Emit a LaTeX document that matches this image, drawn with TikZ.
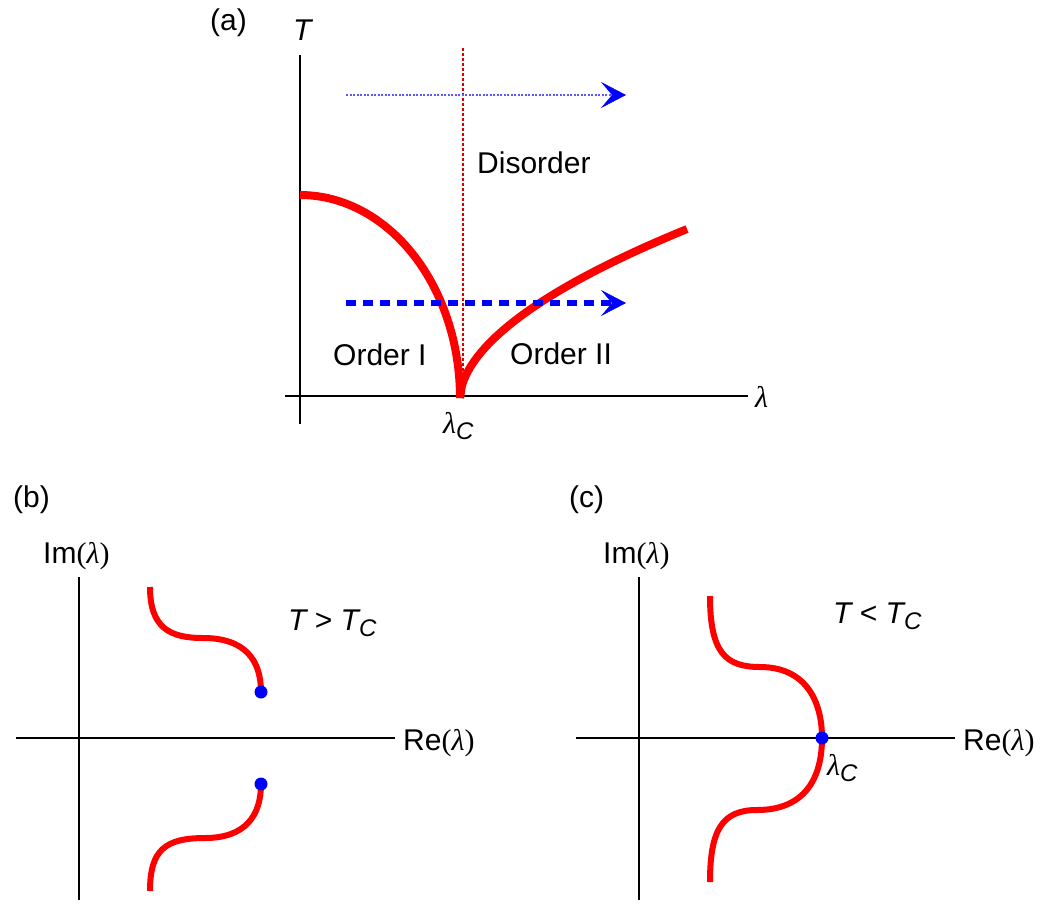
\documentclass[tikz,border=0pt]{standalone}
\usepackage{fontspec}
\setmainfont{Liberation Sans}
\newfontfamily\serif{Liberation Serif}
\usetikzlibrary{arrows.meta}
\newcommand\mylam{{\serif\itshape λ}}
\newcommand\mysub[1]{\raisebox{-6pt}{\fontsize{24}{26}\selectfont\itshape #1}}
\newcommand\mypar[1]{{\serif #1}}
\begin{document}
\begin{tikzpicture}[x=1pt,y=-1pt,
  lbl/.style={inner sep=0pt, anchor=base west, font=\fontsize{30}{36}\selectfont},
  axis/.style={line width=2.3pt, black},
  phase/.style={line width=8pt, red, line cap=butt},
  root/.style={line width=6pt, red},
  dotn/.style={circle, fill=blue, inner sep=0pt, minimum size=13pt},
  tip/.style={-{Stealth[length=25pt, width=26pt, inset=11pt, line width=0.5pt, color=blue]}},
  redline/.style={line width=2.5pt, red!85!black, dash pattern=on 2.5pt off 2.5pt},
  hiarrow/.style={tip, line width=2.5pt, blue!65!white, dash pattern=on 2pt off 1.5pt},
  loarrow/.style={tip, line width=5.5pt, blue, dash pattern=on 10pt off 7pt}]
\useasboundingbox (0,0) rectangle (1049,911);
% ---------- (a) ----------
\draw[axis] (300,55) -- (300,424);
\draw[axis] (285,396) -- (748,396);
\draw[redline] (463,48) -- (463,396);
\coordinate (u1) at (346,95);
\coordinate (u2) at (626,95);
\coordinate (d1) at (346,303);
\coordinate (d2) at (626,303);
\draw[phase] plot[domain=0:90, samples=80] ({300+160*sin(\x)}, {398-203*cos(\x)});
\draw[phase] plot[domain=0:227, samples=120] ({460+\x}, {398-8.55*pow(\x,0.55)});
\draw[hiarrow] (u1) -- (u2);
\draw[loarrow] (d1) -- (d2);
\node[lbl] (la) at (210,30) {(a)};
\node[lbl] (lT) at (293,40) {\itshape T};
\node[lbl] (dis) at (477,173) {Disorder};
\node[lbl] (o1) at (333,365) {Order I};
\node[lbl] (o2) at (510,364) {Order II};
\node[lbl] (lamx) at (755,407) {\mylam};
\node[lbl] (lamc) at (443,433) {\mylam\mysub{C}};
% ---------- (b) ----------
\draw[axis] (79,577) -- (79,900);
\draw[axis] (16,738) -- (395,738);
\draw[root] (150,587) .. controls (150,628) and (170,638) .. (203,638) .. controls (245,638) and (261,660) .. (261,692);
\draw[root] (261,784) .. controls (261,816) and (245,838) .. (205,838) .. controls (165,838) and (150,850) .. (150,891);
\node[dotn] (pb1) at (261,692) {};
\node[dotn] (pb2) at (261,784) {};
\node[lbl] (lb) at (13,507) {(b)};
\node[lbl] (imb) at (43,563) {Im\mypar{(}\mylam\mypar{)}};
\node[lbl] (tb) at (288,630) {\itshape T \upshape > \itshape T\mysub{C}};
\node[lbl] (reb) at (403,750) {Re\mypar{(}\mylam\mypar{)}};
% ---------- (c) ----------
\draw[axis] (639,577) -- (639,900);
\draw[axis] (576,738) -- (955,738);
\draw[root] (710,596) .. controls (710,652) and (725,667) .. (760,667) .. controls (805,667) and (822,700) .. (822,738) .. controls (822,778) and (805,810) .. (757,810) .. controls (722,810) and (710,830) .. (710,882);
\node[dotn] (pc) at (822,738) {};
\node[lbl] (lc) at (569,507) {(c)};
\node[lbl] (imc) at (603,563) {Im\mypar{(}\mylam\mypar{)}};
\node[lbl] (tc) at (833,623) {\itshape T \upshape < \itshape T\mysub{C}};
\node[lbl] (rec) at (963,750) {Re\mypar{(}\mylam\mypar{)}};
\node[lbl] (lamcc) at (827,775) {\mylam\mysub{C}};
\end{tikzpicture}
\end{document}
